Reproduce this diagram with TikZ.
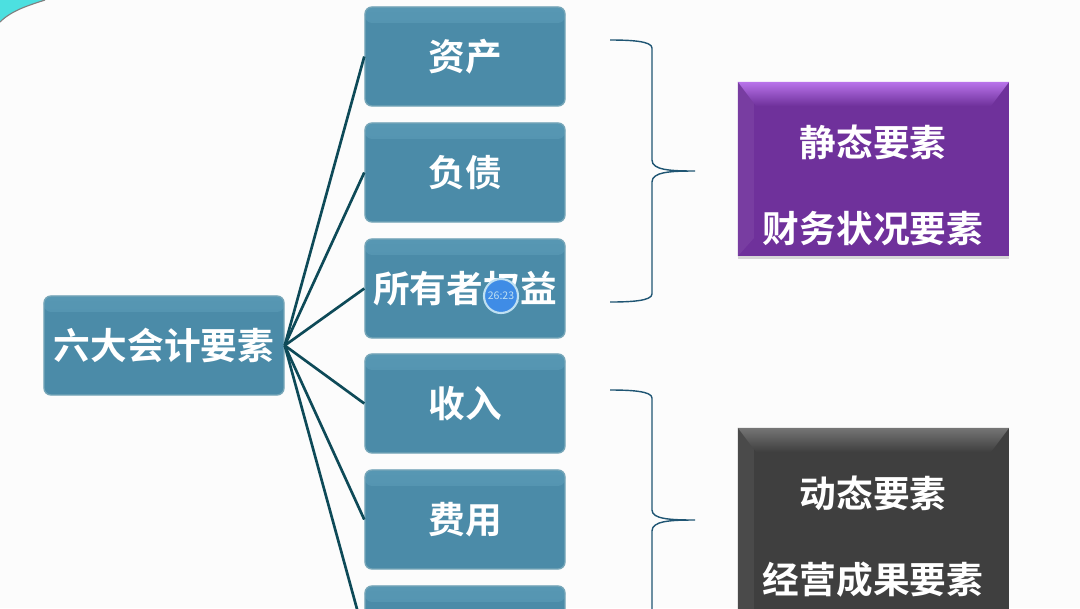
\documentclass[tikz,border=0pt]{standalone}
\usepackage{xcolor}
\usepackage{fontspec}
\setmainfont{Noto Sans CJK SC}[BoldFont={* Bold}]
\usetikzlibrary{shadows}

\definecolor{boxfill}{HTML}{4B8BA8}
\definecolor{boxedge}{HTML}{76A6B8}
\definecolor{boxtop}{HTML}{5797B3}
\definecolor{linkcol}{HTML}{0E4A58}
\definecolor{bracecol}{HTML}{1F5573}
\definecolor{purplefill}{HTML}{6F319B}
\definecolor{purpletop}{HTML}{B873EA}
\definecolor{darkfill}{HTML}{3F3F3F}
\definecolor{darktop}{HTML}{757575}
\definecolor{timerfill}{HTML}{3F8CE6}
\definecolor{timerrim}{HTML}{BFE0F2}
\definecolor{cornercol}{HTML}{4CE0E0}

\tikzset{
	elembox/.style={shape=rectangle,rounded corners=5pt,draw=boxedge,line width=1pt,
		fill=boxfill,minimum width=5cm,minimum height=2.475cm,
		path picture={
			\shade[top color=boxtop,bottom color=boxfill]
				(path picture bounding box.north west) rectangle
				([shift={(0,16)}]path picture bounding box.north east);
		}},
	bevelbox/.style n args={2}{shape=rectangle,fill=#1,
		minimum width=6.775cm,
		drop shadow={opacity=.3,shadow xshift=0pt,shadow yshift=-2pt},
		path picture={
			\fill[#1!94!white]
				(path picture bounding box.north west) --
				([shift={(16,18)}]path picture bounding box.north west) --
				([shift={(16,-18)}]path picture bounding box.south west) --
				(path picture bounding box.south west) -- cycle;
			\shade[top color=#2,bottom color=#1]
				(path picture bounding box.north west) --
				(path picture bounding box.north east) --
				([shift={(-18,24)}]path picture bounding box.north east) --
				([shift={(18,24)}]path picture bounding box.north west) -- cycle;
		}},
	boxtext/.style={text=white,font=\fontsize{26.1}{30}\selectfont\bfseries},
	link/.style={draw=linkcol,line width=1.9pt},
	bracket/.style={draw=bracecol,line width=1pt}
}

\begin{document}
\begin{tikzpicture}[x=.025cm,y=-.025cm]
	\path[use as bounding box,clip] (0,0) rectangle (1080,608);
	\fill[white!99!black] (0,0) rectangle (1080,608);

	% corner of the slide
	\fill[cornercol] (0,0) -- (45,0) .. controls (30,5) and (12,10) .. (0,22) -- cycle;
	\draw[gray,line width=.8pt] (45,0) .. controls (30,5) and (12,10) .. (0,22);

	\node[elembox,minimum width=6cm,boxtext] (elements) at (164,345.5) {六大会计要素};
	\node[elembox,boxtext] (assets) at (465,56.5) {资产};
	\node[elembox,boxtext] (debts) at (465,172.5) {负债};
	\node[elembox,boxtext] (equity) at (465,288.5) {所有者权益};
	\node[elembox,boxtext] (income) at (465,403.5) {收入};
	\node[elembox,boxtext] (costs) at (465,519.5) {费用};
	\node[elembox] (lastbox) at (465,635.5) {};

	\draw[link] (elements.east) -- (assets.west);
	\draw[link] (elements.east) -- (debts.west);
	\draw[link] (elements.east) -- (equity.west);
	\draw[link] (elements.east) -- (income.west);
	\draw[link] (elements.east) -- (costs.west);
	\draw[link] (elements.east) -- (lastbox.west);

	% timer badge
	\node[shape=circle,draw=timerrim,line width=1.5pt,fill=timerfill,
		minimum size=.85cm,inner sep=0pt,text=timerrim,font=\fontsize{7.5}{8}\selectfont]
		(timer) at (501,296) {26:23};

	\node[bevelbox={purplefill}{purpletop},minimum height=4.35cm] (static) at (873.5,169) {};
	\node[boxtext] (staticone) at (873,142) {静态要素};
	\node[boxtext] (statictwo) at (873,229) {财务状况要素};

	\node[bevelbox={darkfill}{darktop},minimum height=5.2cm] (dynamic) at (873.5,532) {};
	\node[boxtext] (dynamicone) at (873,493) {动态要素};
	\node[boxtext] (dynamictwo) at (873,580) {经营成果要素};

	\coordinate (brace1) at (610,40);
	\coordinate (tip1) at (695,171);
	\coordinate (end1) at (610,302);
	\coordinate (brace2) at (610,390);
	\coordinate (tip2) at (695,520);
	\coordinate (end2) at (610,650);

	\draw[bracket] (brace1) .. controls (630,40) and (652,41) .. (652,48)
		-- (652,160) .. controls (652,170) and (670,171) .. (tip1)
		.. controls (670,171) and (652,172) .. (652,182)
		-- (652,294) .. controls (652,301) and (630,302) .. (end1);
	\draw[bracket] (brace2) .. controls (630,390) and (652,391) .. (652,398)
		-- (652,510) .. controls (652,519) and (670,520) .. (tip2)
		.. controls (670,520) and (652,521) .. (652,531)
		-- (652,642) .. controls (652,649) and (630,650) .. (end2);
\end{tikzpicture}
\end{document}
